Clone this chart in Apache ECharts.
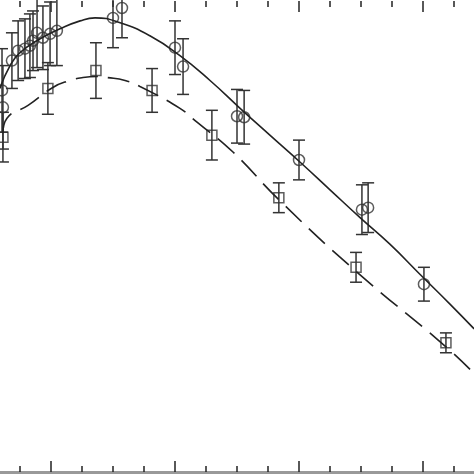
<!DOCTYPE html>
<html><head><meta charset="utf-8">
<script src="https://cdn.jsdelivr.net/npm/echarts@6/dist/echarts.min.js"></script>
<style>html,body{margin:0;background:#fff}#c{width:474px;height:474px}</style>
</head><body><div id="c"></div>
<script>
// x in tick units (1 unit = one minor tick), y in arbitrary units (0 bottom .. 474 top)
var circX = [-0.58, -0.55, -0.26, -0.06, 0.16, 0.32, 0.42, 0.55, 0.74, 0.97, 1.19, 3.0, 3.29, 5.0, 5.26, 7.0, 7.23, 9.0, 11.03, 11.23, 13.03];
var circY = [384, 367, 414, 424, 426, 429, 434, 442, 437, 441, 444, 457, 467, 427, 408, 358, 357, 314, 264, 266, 189];
var circErr = [42, 42, 28, 30, 30, 32, 30, 35, 32, 32, 35, 30, 30, 27, 28, 27, 27, 20, 25, 25, 17];
var sqX = [-0.55, 0.9, 2.45, 4.26, 6.19, 8.35, 10.84, 13.74];
var sqY = [337, 386, 404, 384, 339, 276, 206, 130];
var sqErr = [25, 26, 28, 22, 25, 15, 15, 10];
var solidX = [-0.65, -0.32, 0.0, 0.65, 1.29, 1.94, 2.42, 3.23, 4.19, 5.16, 6.13, 7.1, 8.06, 9.03, 10.0, 10.97, 11.94, 12.9, 13.87, 14.65];
var solidY = [386, 409, 422, 436, 446, 454, 457, 452, 439, 419, 394, 366, 339, 312, 284, 256, 229, 199, 169, 144];
var dashX = [-0.55, -0.42, 0.26, 1.06, 1.61, 2.03, 2.48, 2.81, 3.39, 3.87, 5.16, 5.71, 6.87, 8.35, 10.84, 13.74, 14.65];
var dashY = [341, 356, 369, 387, 394, 397, 398, 397, 394, 388, 366, 352, 322, 274, 202, 126, 99];
var minorTicks = [0,1,2,3,4,5,6,7,8,9,10,11,12,13,14];
var majorTicks = [1,5,9,13];

function pairs(xs, ys) { return xs.map(function (x, i) { return [x, ys[i]]; }); }
function errData(xs, ys, es) { return xs.map(function (x, i) { return [x, ys[i] - es[i], ys[i] + es[i]]; }); }

function errBars(params, api) {
  var x = api.value(0), lo = api.coord([x, api.value(1)]), hi = api.coord([x, api.value(2)]);
  var w = 6, st = {stroke: '#333', lineWidth: 1.5};
  return {type: 'group', children: [
    {type: 'line', shape: {x1: lo[0], y1: lo[1], x2: hi[0], y2: hi[1]}, style: st},
    {type: 'line', shape: {x1: lo[0] - w, y1: lo[1], x2: lo[0] + w, y2: lo[1]}, style: st},
    {type: 'line', shape: {x1: hi[0] - w, y1: hi[1], x2: hi[0] + w, y2: hi[1]}, style: st}
  ]};
}

var xBase = {type: 'value', min: -0.645, max: 14.645, splitLine: {show: false}, axisLabel: {show: false}};
function tickAxis(len, vals, pos) {
  return Object.assign({}, xBase, {position: pos, axisLine: {show: pos === 'bottom', lineStyle: {color: '#999', width: 3}},
    axisTick: {show: true, inside: true, length: len, customValues: vals, lineStyle: {color: '#222', width: 1.5}}});
}

var chart = echarts.init(document.getElementById('c'));
chart.setOption({
  animation: false,
  grid: {left: 0, right: 0, top: 1, bottom: 2},
  xAxis: [tickAxis(6, minorTicks, 'bottom'), tickAxis(11, majorTicks, 'bottom'),
          tickAxis(6, minorTicks, 'top'), tickAxis(11, majorTicks, 'top')],
  yAxis: {type: 'value', min: 0, max: 474, show: false},
  series: [
    {type: 'line', data: pairs(solidX, solidY), smooth: true, symbol: 'none', lineStyle: {color: '#222', width: 1.6}},
    {type: 'line', data: pairs(dashX, dashY), smooth: true, symbol: 'none', lineStyle: {color: '#222', width: 1.6, type: [22, 10]}},
    {type: 'custom', data: errData(circX, circY, circErr), renderItem: errBars},
    {type: 'custom', data: errData(sqX, sqY, sqErr), renderItem: errBars},
    {type: 'scatter', data: pairs(circX, circY), symbol: 'circle', symbolSize: 11,
      itemStyle: {color: 'rgba(255,255,255,0)', borderColor: '#333', borderWidth: 1.5}},
    {type: 'scatter', data: pairs(sqX, sqY), symbol: 'rect', symbolSize: 10,
      itemStyle: {color: 'rgba(255,255,255,0)', borderColor: '#333', borderWidth: 1.5}}
  ]
});
</script></body></html>
